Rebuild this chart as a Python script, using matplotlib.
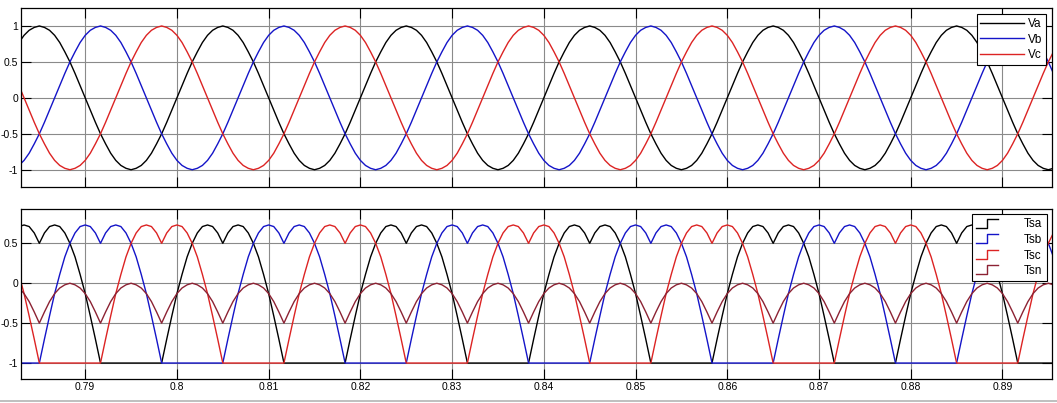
import numpy as np
import matplotlib
matplotlib.use("Agg")
import matplotlib.pyplot as plt
from matplotlib.lines import Line2D
from matplotlib.legend_handler import HandlerBase

# -------------------------------
# Data: one 50 Hz period (0.02 s) read every 10 degrees, repeated over the window
# -------------------------------
t_start = 0.78
period = 0.02
n_periods = 6

va = [0, 0.17, 0.34, 0.5, 0.64, 0.77, 0.87, 0.94, 0.98, 1, 0.98, 0.94,
      0.87, 0.77, 0.64, 0.5, 0.34, 0.17, 0, -0.17, -0.34, -0.5, -0.64, -0.77,
      -0.87, -0.94, -0.98, -1, -0.98, -0.94, -0.87, -0.77, -0.64, -0.5, -0.34, -0.17]
vb = [-0.87, -0.94, -0.98, -1, -0.98, -0.94, -0.87, -0.77, -0.64, -0.5, -0.34, -0.17,
      0, 0.17, 0.34, 0.5, 0.64, 0.77, 0.87, 0.94, 0.98, 1, 0.98, 0.94,
      0.87, 0.77, 0.64, 0.5, 0.34, 0.17, 0, -0.17, -0.34, -0.5, -0.64, -0.77]
vc = [0.87, 0.77, 0.64, 0.5, 0.34, 0.17, 0, -0.17, -0.34, -0.5, -0.64, -0.77,
      -0.87, -0.94, -0.98, -1, -0.98, -0.94, -0.87, -0.77, -0.64, -0.5, -0.34, -0.17,
      0, 0.17, 0.34, 0.5, 0.64, 0.77, 0.87, 0.94, 0.98, 1, 0.98, 0.94]

tsa = [-0.13, 0.11, 0.33, 0.5, 0.63, 0.71, 0.73, 0.71, 0.63, 0.5, 0.63, 0.71,
       0.73, 0.71, 0.63, 0.5, 0.33, 0.11, -0.13, -0.41, -0.70, -1, -1, -1,
       -1, -1, -1, -1, -1, -1, -1, -1, -1, -1, -0.70, -0.41]
tsb = [-1, -1, -1, -1, -1, -1, -1, -1, -1, -1, -0.70, -0.41,
       -0.13, 0.11, 0.33, 0.5, 0.63, 0.71, 0.73, 0.71, 0.63, 0.5, 0.63, 0.71,
       0.73, 0.71, 0.63, 0.5, 0.33, 0.11, -0.13, -0.41, -0.70, -1, -1, -1]
tsc = [0.73, 0.71, 0.63, 0.5, 0.33, 0.11, -0.13, -0.41, -0.70, -1, -1, -1,
       -1, -1, -1, -1, -1, -1, -1, -1, -1, -1, -0.70, -0.41,
       -0.13, 0.11, 0.33, 0.5, 0.63, 0.71, 0.73, 0.71, 0.63, 0.5, 0.63, 0.71]
tsn = [-0.13, -0.06, -0.02, 0, -0.02, -0.06, -0.13, -0.23, -0.36, -0.5, -0.36, -0.23,
       -0.13, -0.06, -0.02, 0, -0.02, -0.06, -0.13, -0.23, -0.36, -0.5, -0.36, -0.23,
       -0.13, -0.06, -0.02, 0, -0.02, -0.06, -0.13, -0.23, -0.36, -0.5, -0.36, -0.23]

x_ticks = [0.79, 0.80, 0.81, 0.82, 0.83, 0.84, 0.85, 0.86, 0.87, 0.88, 0.89]
x_labels = ["0.79", "0.8", "0.81", "0.82", "0.83", "0.84", "0.85", "0.86", "0.87", "0.88", "0.89"]


def repeat(one_period):
    vals = np.asarray(one_period, dtype=float)
    return np.concatenate([np.tile(vals, n_periods), vals[:1]])


n = len(va)
t = t_start + np.arange(n * n_periods + 1) * period / n

BLACK = "#000000"
BLUE = "#1414c8"
RED = "#dc2323"
MAROON = "#8c2233"

plt.rcParams["font.family"] = ["Liberation Sans", "DejaVu Sans"]
plt.rcParams["font.size"] = 7.5

W, H = 1057, 403
fig = plt.figure(figsize=(W / 100, H / 100), dpi=100)
fig.patch.set_facecolor("white")


def px_axes(left, top, right, bottom):
    return fig.add_axes([left / W, 1 - bottom / H, (right - left) / W, (bottom - top) / H])


ax1 = px_axes(21, 8, 1052, 187)
ax2 = px_axes(21, 209, 1052, 379)


class StepHandler(HandlerBase):
    def create_artists(self, legend, orig_handle, xdescent, ydescent,
                       width, height, fontsize, trans):
        x0 = -xdescent
        y0 = -ydescent
        xs = [x0, x0 + 0.5 * width, x0 + 0.5 * width, x0 + width]
        ys = [y0, y0, y0 + height, y0 + height]
        ln = Line2D(xs, ys, color=orig_handle.get_color(), lw=1.0)
        ln.set_transform(trans)
        return [ln]


for ax in (ax1, ax2):
    ax.set_xlim(0.7830, 0.8954)
    ax.set_xticks(x_ticks)
    ax.grid(True, color="#8a8a8a", linewidth=0.8)
    ax.set_axisbelow(True)
    ax.tick_params(direction="in", length=7, width=0.8, top=True, right=True,
                   labelsize=7.5, pad=2)
    for s in ax.spines.values():
        s.set_linewidth(0.9)

# top: phase voltages
ax1.plot(t, repeat(va), color=BLACK, lw=1.0, label="Va")
ax1.plot(t, repeat(vb), color=BLUE, lw=1.0, label="Vb")
ax1.plot(t, repeat(vc), color=RED, lw=1.0, label="Vc")
ax1.set_ylim(-1.24, 1.25)
ax1.set_yticks([-1, -0.5, 0, 0.5, 1])
ax1.set_yticklabels(["-1", "-0.5", "0", "0.5", "1"])
ax1.set_xticklabels([])
leg1 = ax1.legend(loc="upper right", frameon=True, fancybox=False, fontsize=8.5,
                  handlelength=3.7, handletextpad=0.3, borderpad=0.3,
                  labelspacing=0.3, borderaxespad=0.55)
leg1.get_frame().set_edgecolor("black")
leg1.get_frame().set_linewidth(0.8)
leg1.get_frame().set_alpha(1)

# bottom: switching times
h_a, = ax2.plot(t, repeat(tsa), color=BLACK, lw=1.0, label="Tsa")
h_b, = ax2.plot(t, repeat(tsb), color=BLUE, lw=1.0, label="Tsb")
h_c, = ax2.plot(t, repeat(tsc), color=RED, lw=1.0, label="Tsc")
h_n, = ax2.plot(t, repeat(tsn), color=MAROON, lw=1.0, label="Tsn")
ax2.set_ylim(-1.2, 0.93)
ax2.set_yticks([-1, -0.5, 0, 0.5])
ax2.set_yticklabels(["-1", "-0.5", "0", "0.5"])
ax2.set_xticklabels(x_labels)
leg2 = ax2.legend(handles=[h_a, h_b, h_c, h_n], loc="upper right", frameon=True,
                  fancybox=False, fontsize=8.5, handlelength=1.9, handleheight=0.8,
                  handletextpad=2.2, borderpad=0.35, labelspacing=0.3,
                  borderaxespad=0.45,
                  handler_map={Line2D: StepHandler()})
leg2.get_frame().set_edgecolor("black")
leg2.get_frame().set_linewidth(0.8)
leg2.get_frame().set_alpha(1)

# thin gray rule along the bottom of the window
fig.add_artist(Line2D([0, 1], [1 - 400.5 / H, 1 - 400.5 / H], transform=fig.transFigure,
                      color="#b4b4b4", lw=1.2))

fig.savefig("out.png", dpi=100, facecolor="white")
